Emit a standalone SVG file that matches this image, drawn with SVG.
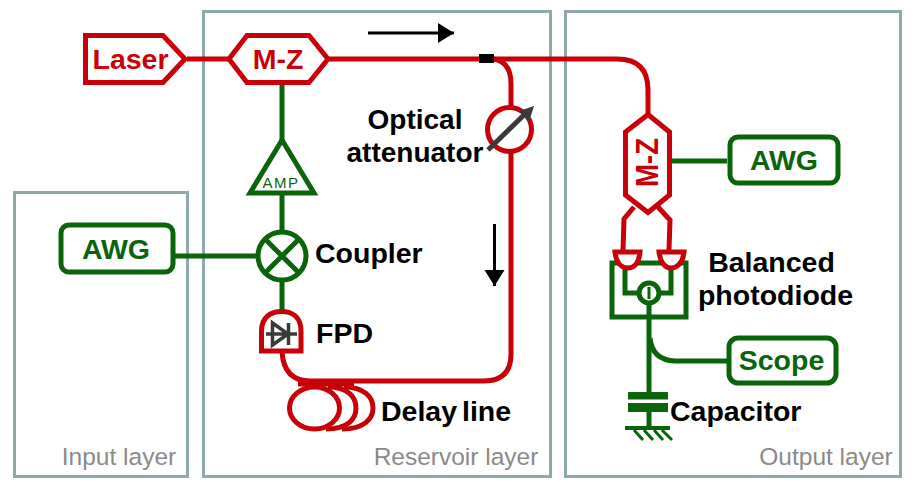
<svg xmlns="http://www.w3.org/2000/svg" width="915" height="492" viewBox="0 0 915 492">
<style>
.layer{fill:none;stroke:#8fa8ac;stroke-width:3}
.r{fill:none;stroke:#c80008;stroke-width:5}
.rb{fill:#fff;stroke:#c80008;stroke-width:5}
.g{fill:none;stroke:#0a640a;stroke-width:5}
.gb{fill:#fff;stroke:#0a640a;stroke-width:5}
text{font-family:"Liberation Sans",Arial,sans-serif;font-weight:700;font-size:28.500px;fill:#000}
.lt{font-weight:400;font-size:24.500px;fill:#8a8a8a;text-anchor:middle}
.rt{fill:#c80008;text-anchor:middle}
.gt{fill:#0a640a;text-anchor:middle}
</style>
<defs>
<marker id="ah" markerUnits="userSpaceOnUse" markerWidth="18" markerHeight="22" refX="16" refY="10" orient="auto"><path d="M0 0L16 10L0 20Z" fill="#000"/></marker>
</defs>
<g id="layers">
<rect class="layer" x="14.500" y="192.500" width="173" height="284"/>
<rect class="layer" x="203.500" y="11.500" width="347" height="465"/>
<rect class="layer" x="565.500" y="11.500" width="335" height="465"/>
<text class="lt" x="119" y="465">Input layer</text>
<text class="lt" x="456" y="465">Reservoir layer</text>
<text class="lt" x="826" y="465">Output layer</text>
</g>
<g id="connectors">
<path class="r" d="M187 59H228"/>
<path class="r" d="M329 59H617Q648 59 648 90V122"/>
<path class="r" d="M494 59Q511 62 511 84V112"/>
<path class="r" d="M511 152V354Q511 381 484 381H310Q284 381 282 352"/>
<path class="g" d="M282 84V140"/>
<path class="g" d="M282 194V232"/>
<path class="g" d="M174 256H258"/>
<path class="g" d="M282 280V312"/>
<path class="g" d="M672 161H727"/>
<path class="g" d="M649 305V392"/>
<path class="g" d="M650 338Q652 360 675 361H728"/>
<path class="r" d="M634 207L624 219L623 250"/>
<path class="r" d="M658 207L670 220L669 250"/>
<path d="M368 33H454" fill="none" stroke="#000" stroke-width="3" marker-end="url(#ah)"/>
<path d="M494.500 224V286" fill="none" stroke="#000" stroke-width="3" marker-end="url(#ah)"/>
</g>
<g id="laser"><path class="rb" d="M85.500 35.500H163L185 59L163 82.500H85.500Z"/><text class="rt" x="130.500" y="69">Laser</text></g>
<g id="mz1"><path class="rb" d="M247 35.500H309L328 59L309 82.500H247L229 59Z"/><text class="rt" x="278" y="69">M-Z</text></g>
<g id="splitter"><rect x="479" y="54" width="15" height="9" fill="#000"/></g>
<g id="attenuator"><circle class="rb" cx="509.500" cy="129.500" r="22"/><path d="M488 150L527 112" fill="none" stroke="#3a3a3a" stroke-width="5"/><path d="M534 106L519 111L529 122Z" fill="#3a3a3a"/><text x="415" y="129" text-anchor="middle" style="font-size:28px">Optical</text><text x="415" y="162" text-anchor="middle" style="font-size:28px">attenuator</text></g>
<g id="amp"><path class="gb" d="M282 140L250 193H314Z"/><text class="gt" x="281" y="188" style="font-size:15px;font-weight:400;letter-spacing:1.500px">AMP</text></g>
<g id="coupler"><circle class="gb" cx="282" cy="256" r="24"/><path class="g" d="M265 239L299 273M299 239L265 273"/><text x="315" y="263">Coupler</text></g>
<g id="awg-in"><rect class="gb" x="61" y="225" width="112" height="47" rx="8"/><text class="gt" x="116" y="259">AWG</text></g>
<g id="fpd"><path class="rb" d="M261.500 351V331C261.500 317 271 311.500 281.500 311.500C292 311.500 301 317 301 331V351Z"/><path d="M266 334H297M272.500 323V345L288 334ZM288.500 323V345" fill="none" stroke="#3a3a3a" stroke-width="3.500"/><text x="316" y="343">FPD</text></g>
<g id="delay"><path d="M298 383.500H354" fill="none" stroke="#c80008" stroke-width="6"/><ellipse class="r" cx="314.500" cy="408" rx="25" ry="21"/><path class="r" d="M328 387C348 387 356 397 356 408C356 419 348 429 326 429"/><path class="r" d="M344 387C364 387 373 397 373 408C373 419 364 429 342 429"/><text x="381" y="421" style="word-spacing:-3px">Delay line</text></g>
<g id="mz2"><path class="rb" d="M648 114.500L669.500 132V195L648 212.500L625.500 195V132Z"/><text class="rt" transform="translate(657.500 162.500) rotate(-90) scale(.97 1.120)">M-Z</text></g>
<g id="awg-out"><rect class="gb" x="730" y="137" width="108" height="46" rx="8"/><text class="gt" x="784" y="170">AWG</text></g>
<g id="bpd">
<rect class="g" x="612" y="263" width="74" height="54"/>
<path class="g" d="M625 265V293H638M671 265V293H660"/>
<circle class="gb" cx="649" cy="293" r="10"/><path class="g" d="M649 287V299" style="stroke-width:3"/>
<path class="rb" d="M615 252H640C639 263 634 268 628 268C621 268 616 262 615 252Z"/>
<path class="rb" d="M659 252H684C683 263 677 268 671 268C665 268 660 262 659 252Z"/>
<text x="771.500" y="272" text-anchor="middle">Balanced</text><text x="775.500" y="305" text-anchor="middle">photodiode</text>
</g>
<g id="scope"><rect class="gb" x="729" y="338" width="107" height="45" rx="9"/><text class="gt" x="781.500" y="370">Scope</text></g>
<g id="capacitor"><path d="M628 392H668V399.500H628ZM628 403H668V412H628Z" fill="#0a640a"/><path class="g" d="M649 412V428"/><path d="M625 428H670" fill="none" stroke="#0a640a" stroke-width="4"/><path d="M634 430L643 440M644 430L653 440M654 430L663 440M662 430L672 440" fill="none" stroke="#0a640a" stroke-width="3"/><text x="670" y="421">Capacitor</text></g>
</svg>
